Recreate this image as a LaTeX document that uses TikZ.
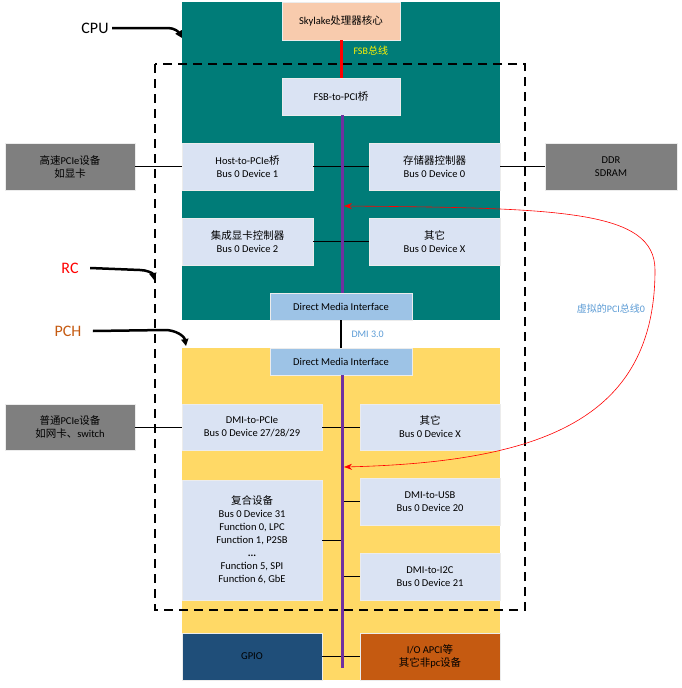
\documentclass[tikz,border=0pt]{standalone}
\usepackage{fontspec}
\setmainfont{Carlito}
\newfontfamily\cjk{Noto Sans CJK SC}
\usetikzlibrary{arrows.meta}
\definecolor{teal1}{HTML}{007C78}
\definecolor{ylw}{HTML}{FFD966}
\definecolor{lbox}{HTML}{DAE3F3}
\definecolor{dmi}{HTML}{9DC3E6}
\definecolor{peach}{HTML}{F8CBAD}
\definecolor{gry}{HTML}{7F7F7F}
\definecolor{navy}{HTML}{1F4E79}
\definecolor{orng}{HTML}{C55A11}
\definecolor{purp}{HTML}{7030A0}
\definecolor{lblue}{HTML}{5B9BD5}
\begin{document}
\begin{tikzpicture}[x=1pt,y=-1pt,
  box/.style={draw=white!85!gray,line width=0.6pt,fill=lbox,align=center,inner sep=0pt,font=\fontsize{10.5}{13}\selectfont},
  conn/.style={draw=black,line width=0.6pt},
  bigarrow/.style={line width=2.5pt,-{Triangle[length=7pt,width=7pt]}},
  lbl/.style={font=\fontsize{16}{18}\selectfont}]
\useasboundingbox (0,0) rectangle (682,688);
% backgrounds
\node[fill=teal1,minimum width=318pt,minimum height=318pt,inner sep=0pt] (cpu) at (341,161) {};
\node[fill=ylw,minimum width=318pt,minimum height=332pt,inner sep=0pt] (pch) at (341,514) {};
% boxes
\node[box,fill=peach,minimum width=118pt,minimum height=38pt] (sky) at (341,21) {Skylake{\cjk 处理器核心}};
\node[box,minimum width=118pt,minimum height=37pt] (fsb) at (341,96.5) {FSB-to-PCI{\cjk 桥}};
\node[box,minimum width=131pt,minimum height=47pt] (host) at (247.5,166.5) {Host-to-PCIe{\cjk 桥}\\Bus 0 Device 1};
\node[box,minimum width=131pt,minimum height=47pt] (mem) at (434.5,166.5) {{\cjk 存储器控制器}\\Bus 0 Device 0};
\node[box,minimum width=131pt,minimum height=47pt] (igpu) at (247.5,241.5) {{\cjk 集成显卡控制器}\\Bus 0 Device 2};
\node[box,minimum width=131pt,minimum height=47pt] (oth1) at (434.5,241.5) {{\cjk 其它}\\Bus 0 Device X};
\node[box,fill=dmi,minimum width=142pt,minimum height=27pt] (dmic) at (341,306.5) {Direct Media Interface};
\node[box,fill=dmi,minimum width=142pt,minimum height=27pt] (dmip) at (341,361.5) {Direct Media Interface};
\node[box,minimum width=140pt,minimum height=46pt] (dpcie) at (252,427) {DMI-to-PCIe\\Bus 0 Device 27/28/29};
\node[box,minimum width=140pt,minimum height=46pt] (oth2) at (430,427) {{\cjk 其它}\\Bus 0 Device X};
\node[box,minimum width=140pt,minimum height=120pt] (comp) at (252,540) {{\cjk 复合设备}\\Bus 0 Device 31\\Function 0, LPC\\Function 1, P2SB\\\textbf{...}\\Function 5, SPI\\Function 6, GbE};
\node[box,minimum width=140pt,minimum height=47pt] (usb) at (430,501.5) {DMI-to-USB\\Bus 0 Device 20};
\node[box,minimum width=140pt,minimum height=47pt] (i2c) at (430,576.5) {DMI-to-I2C\\Bus 0 Device 21};
\node[box,fill=navy,minimum width=140pt,minimum height=47pt] (gpio) at (252,656.5) {GPIO};
\node[box,fill=orng,minimum width=140pt,minimum height=47pt] (ioapic) at (430,656.5) {I/O APCI{\cjk 等}\\{\cjk 其它非}pc{\cjk 设备}};
\node[box,fill=gry,minimum width=130pt,minimum height=47pt] (hs) at (70,166.5) {{\cjk 高速}PCIe{\cjk 设备}\\{\cjk 如显卡}};
\node[box,fill=gry,minimum width=132pt,minimum height=47pt] (ddr) at (611,166.5) {DDR\\SDRAM};
\node[box,fill=gry,minimum width=130pt,minimum height=46pt] (np) at (70,427) {{\cjk 普通}PCIe{\cjk 设备}\\{\cjk 如网卡、}switch};
% bus coordinates
\coordinate (b1) at (342,115);
\coordinate (b2) at (342,293);
\coordinate (b3) at (342,375);
\coordinate (b4) at (342,668);
% connectors
\draw[conn] (hs.east) -- (host.west);
\draw[conn] (host.east) -- (mem.west);
\draw[conn] (mem.east) -- (ddr.west);
\draw[conn] (igpu.east) -- (oth1.west);
\draw[conn] (np.east) -- (dpcie.west);
\draw[conn] (dpcie.east) -- (oth2.west);
\draw[conn] (usb.west) -- (342,501.5);
\draw[conn] (i2c.west) -- (342,576.5);
\draw[conn] (comp.east|-0,540) -- (342,540);
\draw[conn] (gpio.east) -- (ioapic.west);
\draw[line width=3pt,red] (sky.south) -- (fsb.north);
\node[text=yellow,font=\fontsize{10}{12}\selectfont,anchor=west] (fsbl) at (350,51) {FSB{\cjk 总线}};
\draw[line width=3pt,purp] (b1) -- (b2);
\draw[line width=3pt,purp] (b3) -- (b4);
\draw[line width=2pt,black] (dmic.south) -- (dmip.north);
\node[text=lblue,font=\fontsize{10}{12}\selectfont,anchor=west] (dmil) at (348,334) {DMI 3.0};
% dashed region
\draw[line width=1.3pt,dash pattern=on 9pt off 6pt] (155,64) rectangle (525,610);
% virtual bus
\draw[red,line width=0.6pt,{Stealth[length=8pt,width=6pt]}-{Stealth[length=8pt,width=6pt]}]
  (344,206) .. controls (560,208) and (655,210) .. (655,270)
  .. controls (655,420) and (540,462) .. (344,467);
\node[fill=white,text=lblue,inner sep=1pt,font=\fontsize{10}{12}\selectfont] (vb) at (611,309) {{\cjk 虚拟的}PCI{\cjk 总线}0};
% labels
\node[lbl] (cpul) at (95,28) {CPU};
\node[lbl,text=red] (rcl) at (70,268) {RC};
\node[lbl,text=orng] (pchl) at (68,331) {PCH};
\draw[bigarrow] (cpul.east) -- (168,28) to[out=0,in=120] (182,38);
\draw[bigarrow] (rcl.east)++(8,0) -- (140,270) to[out=0,in=100] (154,280);
\draw[bigarrow] (pchl.east)++(8,0) -- (165,330) to[out=0,in=100] (186,346);
\end{tikzpicture}
\end{document}
